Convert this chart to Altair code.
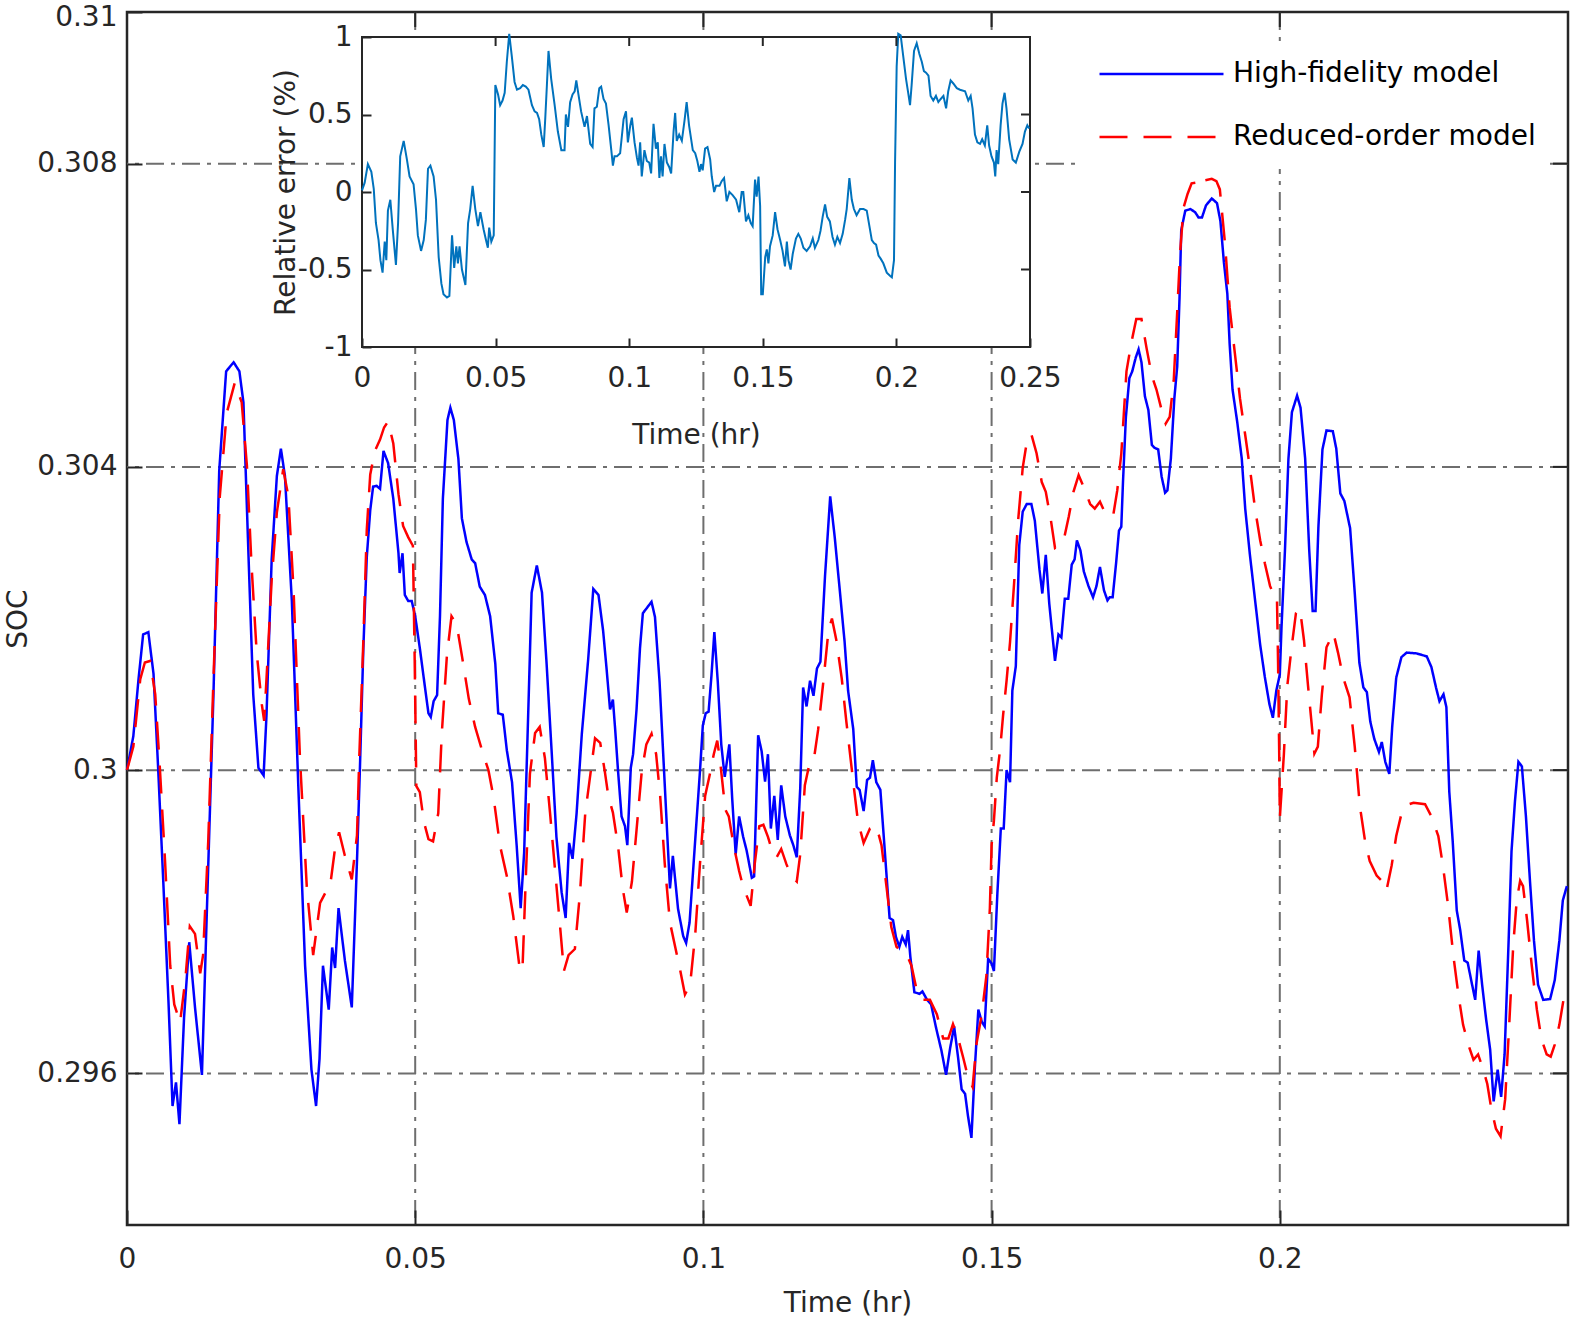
import altair as alt
import pandas as pd

# ---------------------------------------------------------------- data
hf_time = [
    0.0000, 0.0011, 0.0020, 0.0028, 0.0037, 0.0046, 0.0054, 0.0063, 0.0072, 0.0079,
    0.0085, 0.0091, 0.0099, 0.0108, 0.0118, 0.0130, 0.0139, 0.0150, 0.0160, 0.0172,
    0.0185, 0.0195, 0.0202, 0.0211, 0.0219, 0.0228, 0.0237, 0.0242, 0.0251, 0.0260,
    0.0267, 0.0274, 0.0286, 0.0297, 0.0309, 0.0320, 0.0328, 0.0334, 0.0340, 0.0350,
    0.0356, 0.0361, 0.0367, 0.0378, 0.0390, 0.0399, 0.0404, 0.0410, 0.0416, 0.0422,
    0.0427, 0.0433, 0.0439, 0.0445, 0.0453, 0.0462, 0.0471, 0.0473, 0.0478, 0.0482,
    0.0488, 0.0494, 0.0500, 0.0508, 0.0517, 0.0523, 0.0527, 0.0532, 0.0538, 0.0543,
    0.0548, 0.0556, 0.0561, 0.0567, 0.0575, 0.0581, 0.0589, 0.0598, 0.0604, 0.0612,
    0.0621, 0.0630, 0.0639, 0.0644, 0.0652, 0.0659, 0.0668, 0.0676, 0.0683, 0.0689,
    0.0697, 0.0702, 0.0711, 0.0720, 0.0728, 0.0737, 0.0745, 0.0754, 0.0761, 0.0767,
    0.0773, 0.0780, 0.0789, 0.0800, 0.0809, 0.0818, 0.0826, 0.0832, 0.0838, 0.0843,
    0.0847, 0.0852, 0.0858, 0.0864, 0.0868, 0.0874, 0.0878, 0.0884, 0.0890, 0.0895,
    0.0904, 0.0910, 0.0916, 0.0924, 0.0933, 0.0942, 0.0947, 0.0956, 0.0965, 0.0970,
    0.0976, 0.0985, 0.0994, 0.0999, 0.1004, 0.1009, 0.1014, 0.1019, 0.1025, 0.1031,
    0.1037, 0.1045, 0.1050, 0.1056, 0.1062, 0.1069, 0.1075, 0.1084, 0.1088, 0.1095,
    0.1101, 0.1107, 0.1112, 0.1117, 0.1123, 0.1129, 0.1135, 0.1142, 0.1150, 0.1156,
    0.1162, 0.1168, 0.1173, 0.1179, 0.1185, 0.1191, 0.1197, 0.1203, 0.1211, 0.1220,
    0.1228, 0.1237, 0.1245, 0.1251, 0.1260, 0.1266, 0.1271, 0.1278, 0.1284, 0.1289,
    0.1294, 0.1300, 0.1307, 0.1314, 0.1323, 0.1329, 0.1334, 0.1340, 0.1345, 0.1351,
    0.1355, 0.1359, 0.1366, 0.1375, 0.1380, 0.1388, 0.1395, 0.1404, 0.1413, 0.1421,
    0.1428, 0.1435, 0.1442, 0.1448, 0.1454, 0.1459, 0.1465, 0.1471, 0.1477, 0.1483,
    0.1488, 0.1494, 0.1500, 0.1504, 0.1510, 0.1516, 0.1521, 0.1526, 0.1532, 0.1536,
    0.1542, 0.1548, 0.1554, 0.1561, 0.1569, 0.1575, 0.1583, 0.1588, 0.1594, 0.1600,
    0.1610, 0.1616, 0.1621, 0.1627, 0.1633, 0.1639, 0.1644, 0.1648, 0.1654, 0.1660,
    0.1668, 0.1676, 0.1682, 0.1688, 0.1695, 0.1701, 0.1705, 0.1710, 0.1716, 0.1721,
    0.1725, 0.1728, 0.1733, 0.1739, 0.1744, 0.1750, 0.1755, 0.1760, 0.1766, 0.1772,
    0.1778, 0.1783, 0.1789, 0.1795, 0.1801, 0.1805, 0.1811, 0.1817, 0.1822, 0.1826,
    0.1829, 0.1836, 0.1845, 0.1853, 0.1859, 0.1865, 0.1872, 0.1882, 0.1891, 0.1897,
    0.1903, 0.1909, 0.1913, 0.1918, 0.1926, 0.1934, 0.1940, 0.1948, 0.1957, 0.1966,
    0.1974, 0.1982, 0.1988, 0.1994, 0.2000, 0.2003, 0.2009, 0.2015, 0.2021, 0.2030,
    0.2036, 0.2044, 0.2051, 0.2057, 0.2062, 0.2067, 0.2074, 0.2081, 0.2092, 0.2098,
    0.2105, 0.2112, 0.2122, 0.2130, 0.2138, 0.2145, 0.2151, 0.2157, 0.2164, 0.2172,
    0.2177, 0.2183, 0.2190, 0.2195, 0.2202, 0.2211, 0.2220, 0.2237, 0.2255, 0.2263,
    0.2271, 0.2277, 0.2284, 0.2289, 0.2294, 0.2300, 0.2307, 0.2313, 0.2320, 0.2326,
    0.2332, 0.2339, 0.2345, 0.2351, 0.2358, 0.2365, 0.2371, 0.2378, 0.2384, 0.2390,
    0.2397, 0.2402, 0.2408, 0.2414, 0.2420, 0.2427, 0.2434, 0.2441, 0.2448, 0.2457,
    0.2469, 0.2477, 0.2485, 0.2491, 0.2498,
]
hf_soc = [
    0.30000, 0.30045, 0.30120, 0.30179, 0.30182, 0.30127, 0.30003, 0.29852, 0.29694, 0.29557,
    0.29588, 0.29533, 0.29674, 0.29773, 0.29687, 0.29598, 0.29825, 0.30100, 0.30395, 0.30526,
    0.30538, 0.30526, 0.30485, 0.30278, 0.30100, 0.30003, 0.29993, 0.30072, 0.30278, 0.30388,
    0.30424, 0.30388, 0.30223, 0.29983, 0.29742, 0.29605, 0.29557, 0.29619, 0.29742, 0.29684,
    0.29766, 0.29739, 0.29818, 0.29749, 0.29687, 0.29880, 0.30000, 0.30160, 0.30281, 0.30343,
    0.30374, 0.30375, 0.30371, 0.30421, 0.30405, 0.30358, 0.30286, 0.30260, 0.30286, 0.30231,
    0.30223, 0.30223, 0.30203, 0.30161, 0.30109, 0.30075, 0.30070, 0.30091, 0.30099, 0.30203,
    0.30358, 0.30462, 0.30478, 0.30462, 0.30410, 0.30332, 0.30301, 0.30278, 0.30273, 0.30242,
    0.30231, 0.30203, 0.30140, 0.30075, 0.30073, 0.30026, 0.29984, 0.29901, 0.29818, 0.29891,
    0.30099, 0.30234, 0.30270, 0.30234, 0.30140, 0.30021, 0.29912, 0.29839, 0.29805, 0.29904,
    0.29883, 0.29943, 0.30047, 0.30145, 0.30239, 0.30231, 0.30184, 0.30134, 0.30080, 0.30093,
    0.30053, 0.29998, 0.29939, 0.29926, 0.29901, 0.30003, 0.30021, 0.30080, 0.30161, 0.30207,
    0.30216, 0.30222, 0.30202, 0.30116, 0.29980, 0.29844, 0.29887, 0.29817, 0.29781, 0.29772,
    0.29799, 0.29899, 0.29998, 0.30059, 0.30075, 0.30077, 0.30125, 0.30182, 0.30116, 0.30034,
    0.29991, 0.30034, 0.29962, 0.29889, 0.29939, 0.29912, 0.29894, 0.29858, 0.29860, 0.30046,
    0.30025, 0.29985, 0.30021, 0.29923, 0.29966, 0.29908, 0.29980, 0.29939, 0.29914, 0.29901,
    0.29885, 0.29976, 0.30109, 0.30084, 0.30118, 0.30098, 0.30134, 0.30143, 0.30256, 0.30361,
    0.30306, 0.30234, 0.30169, 0.30105, 0.30054, 0.29978, 0.29974, 0.29946, 0.29987, 0.29990,
    0.30013, 0.29984, 0.29974, 0.29901, 0.29805, 0.29802, 0.29780, 0.29767, 0.29780, 0.29770,
    0.29789, 0.29754, 0.29707, 0.29705, 0.29708, 0.29697, 0.29691, 0.29659, 0.29630, 0.29598,
    0.29633, 0.29662, 0.29620, 0.29579, 0.29573, 0.29544, 0.29515, 0.29608, 0.29684, 0.29668,
    0.29662, 0.29751, 0.29745, 0.29735, 0.29837, 0.29923, 0.29923, 0.30000, 0.29984, 0.30105,
    0.30137, 0.30297, 0.30341, 0.30351, 0.30351, 0.30329, 0.30265, 0.30233, 0.30284, 0.30220,
    0.30144, 0.30179, 0.30175, 0.30226, 0.30226, 0.30271, 0.30278, 0.30303, 0.30290, 0.30262,
    0.30243, 0.30228, 0.30243, 0.30268, 0.30237, 0.30224, 0.30228, 0.30228, 0.30273, 0.30316,
    0.30321, 0.30381, 0.30466, 0.30517, 0.30526, 0.30544, 0.30555, 0.30538, 0.30493, 0.30475,
    0.30429, 0.30425, 0.30423, 0.30387, 0.30366, 0.30369, 0.30411, 0.30490, 0.30532, 0.30622,
    0.30712, 0.30738, 0.30740, 0.30736, 0.30729, 0.30729, 0.30745, 0.30754, 0.30748, 0.30724,
    0.30670, 0.30628, 0.30562, 0.30502, 0.30460, 0.30411, 0.30345, 0.30285, 0.30225, 0.30165,
    0.30123, 0.30087, 0.30069, 0.30105, 0.30126, 0.30189, 0.30291, 0.30411, 0.30472, 0.30494,
    0.30478, 0.30411, 0.30291, 0.30210, 0.30210, 0.30321, 0.30423, 0.30448, 0.30447, 0.30424,
    0.30365, 0.30355, 0.30319, 0.30234, 0.30142, 0.30109, 0.30103, 0.30064, 0.30041, 0.30024,
    0.30037, 0.30011, 0.29995, 0.30057, 0.30122, 0.30149, 0.30155, 0.30154, 0.30150, 0.30136,
    0.30109, 0.30091, 0.30100, 0.30083, 0.29972, 0.29906, 0.29815, 0.29789, 0.29749, 0.29746,
    0.29723, 0.29697, 0.29762, 0.29717, 0.29671, 0.29631, 0.29563, 0.29605, 0.29569, 0.29625,
    0.29775, 0.29893, 0.29959, 0.30011, 0.30005, 0.29939, 0.29854, 0.29775, 0.29717, 0.29697,
    0.29698, 0.29723, 0.29775, 0.29828, 0.29847,
]

rom_time = [
    0.0000, 0.0011, 0.0023, 0.0031, 0.0040, 0.0049, 0.0057, 0.0066, 0.0075, 0.0082,
    0.0092, 0.0101, 0.0109, 0.0118, 0.0127, 0.0132, 0.0141, 0.0150, 0.0161, 0.0173,
    0.0187, 0.0199, 0.0208, 0.0216, 0.0225, 0.0234, 0.0238, 0.0242, 0.0251, 0.0260,
    0.0271, 0.0280, 0.0289, 0.0300, 0.0312, 0.0323, 0.0335, 0.0344, 0.0352, 0.0361,
    0.0368, 0.0378, 0.0390, 0.0399, 0.0403, 0.0410, 0.0416, 0.0422, 0.0430, 0.0439,
    0.0446, 0.0453, 0.0462, 0.0471, 0.0479, 0.0488, 0.0496, 0.0499, 0.0502, 0.0508,
    0.0515, 0.0523, 0.0531, 0.0540, 0.0546, 0.0555, 0.0563, 0.0572, 0.0581, 0.0593,
    0.0604, 0.0616, 0.0627, 0.0636, 0.0647, 0.0659, 0.0670, 0.0681, 0.0686, 0.0692,
    0.0699, 0.0708, 0.0716, 0.0725, 0.0734, 0.0743, 0.0751, 0.0758, 0.0766, 0.0777,
    0.0786, 0.0795, 0.0804, 0.0812, 0.0821, 0.0829, 0.0835, 0.0843, 0.0852, 0.0860,
    0.0867, 0.0876, 0.0884, 0.0893, 0.0901, 0.0910, 0.0918, 0.0925, 0.0933, 0.0942,
    0.0951, 0.0960, 0.0968, 0.0977, 0.0986, 0.0994, 0.1003, 0.1011, 0.1018, 0.1024,
    0.1029, 0.1038, 0.1044, 0.1053, 0.1062, 0.1069, 0.1082, 0.1089, 0.1097, 0.1104,
    0.1112, 0.1121, 0.1127, 0.1135, 0.1144, 0.1153, 0.1162, 0.1168, 0.1176, 0.1185,
    0.1192, 0.1199, 0.1208, 0.1217, 0.1223, 0.1231, 0.1240, 0.1248, 0.1260, 0.1268,
    0.1278, 0.1289, 0.1300, 0.1309, 0.1318, 0.1326, 0.1335, 0.1344, 0.1352, 0.1361,
    0.1370, 0.1381, 0.1393, 0.1405, 0.1416, 0.1425, 0.1433, 0.1442, 0.1451, 0.1459,
    0.1467, 0.1474, 0.1483, 0.1491, 0.1497, 0.1500, 0.1504, 0.1509, 0.1515, 0.1520,
    0.1526, 0.1532, 0.1539, 0.1546, 0.1554, 0.1562, 0.1569, 0.1578, 0.1587, 0.1594,
    0.1603, 0.1610, 0.1618, 0.1625, 0.1634, 0.1642, 0.1651, 0.1660, 0.1671, 0.1679,
    0.1688, 0.1697, 0.1705, 0.1711, 0.1718, 0.1725, 0.1734, 0.1742, 0.1751, 0.1760,
    0.1769, 0.1778, 0.1786, 0.1795, 0.1802, 0.1809, 0.1816, 0.1822, 0.1827, 0.1833,
    0.1840, 0.1847, 0.1856, 0.1863, 0.1870, 0.1882, 0.1890, 0.1896, 0.1905, 0.1913,
    0.1922, 0.1931, 0.1940, 0.1948, 0.1957, 0.1966, 0.1974, 0.1983, 0.1990, 0.1995,
    0.1997, 0.1999, 0.2000, 0.2003, 0.2007, 0.2013, 0.2020, 0.2028, 0.2035, 0.2042,
    0.2049, 0.2055, 0.2060, 0.2066, 0.2073, 0.2081, 0.2093, 0.2101, 0.2110, 0.2121,
    0.2130, 0.2139, 0.2148, 0.2156, 0.2168, 0.2177, 0.2185, 0.2194, 0.2202, 0.2210,
    0.2220, 0.2232, 0.2252, 0.2263, 0.2275, 0.2283, 0.2292, 0.2301, 0.2310, 0.2318,
    0.2327, 0.2336, 0.2344, 0.2353, 0.2360, 0.2367, 0.2375, 0.2383, 0.2391, 0.2398,
    0.2405, 0.2411, 0.2417, 0.2422, 0.2429, 0.2437, 0.2446, 0.2454, 0.2463, 0.2470,
    0.2477, 0.2485, 0.2495,
]
rom_soc = [
    0.30000, 0.30031, 0.30120, 0.30142, 0.30144, 0.30100, 0.30003, 0.29880, 0.29742, 0.29691,
    0.29667, 0.29722, 0.29794, 0.29784, 0.29732, 0.29756, 0.29907, 0.30120, 0.30361, 0.30471,
    0.30511, 0.30485, 0.30402, 0.30271, 0.30155, 0.30086, 0.30065, 0.30120, 0.30251, 0.30340,
    0.30397, 0.30361, 0.30237, 0.30017, 0.29845, 0.29756, 0.29825, 0.29838, 0.29845, 0.29897,
    0.29918, 0.29887, 0.29856, 0.29914, 0.30017, 0.30170, 0.30317, 0.30390, 0.30421, 0.30436,
    0.30452, 0.30460, 0.30431, 0.30364, 0.30322, 0.30307, 0.30296, 0.30151, 0.29979, 0.29971,
    0.29932, 0.29909, 0.29906, 0.29943, 0.30047, 0.30151, 0.30203, 0.30192, 0.30151, 0.30094,
    0.30057, 0.30026, 0.30000, 0.29964, 0.29901, 0.29860, 0.29808, 0.29740, 0.29735, 0.29860,
    0.29995, 0.30049, 0.30057, 0.30016, 0.29943, 0.29865, 0.29797, 0.29735, 0.29756, 0.29764,
    0.29839, 0.29943, 0.29995, 0.30042, 0.30036, 0.29998, 0.29966, 0.29944, 0.29899, 0.29844,
    0.29812, 0.29853, 0.29921, 0.29998, 0.30034, 0.30048, 0.30021, 0.29966, 0.29876, 0.29799,
    0.29767, 0.29735, 0.29704, 0.29717, 0.29785, 0.29876, 0.29966, 0.29994, 0.30021, 0.30039,
    0.30012, 0.29948, 0.29939, 0.29899, 0.29867, 0.29846, 0.29821, 0.29876, 0.29926, 0.29928,
    0.29912, 0.29889, 0.29885, 0.29896, 0.29876, 0.29860, 0.29853, 0.29889, 0.29980, 0.30012,
    0.30016, 0.30053, 0.30116, 0.30184, 0.30200, 0.30170, 0.30121, 0.30064, 0.29984, 0.29933,
    0.29904, 0.29923, 0.29927, 0.29901, 0.29844, 0.29793, 0.29767, 0.29761, 0.29758, 0.29742,
    0.29710, 0.29697, 0.29697, 0.29678, 0.29646, 0.29646, 0.29665, 0.29646, 0.29620, 0.29595,
    0.29582, 0.29640, 0.29678, 0.29729, 0.29818, 0.29901, 0.29933, 0.29990, 0.30029, 0.30073,
    0.30118, 0.30169, 0.30246, 0.30329, 0.30399, 0.30437, 0.30443, 0.30418, 0.30380, 0.30367,
    0.30329, 0.30293, 0.30297, 0.30303, 0.30335, 0.30367, 0.30389, 0.30373, 0.30351, 0.30345,
    0.30354, 0.30339, 0.30334, 0.30336, 0.30369, 0.30417, 0.30526, 0.30562, 0.30595, 0.30595,
    0.30556, 0.30520, 0.30502, 0.30475, 0.30457, 0.30466, 0.30514, 0.30604, 0.30682, 0.30742,
    0.30760, 0.30774, 0.30775, 0.30769, 0.30778, 0.30780, 0.30777, 0.30766, 0.30694, 0.30610,
    0.30550, 0.30490, 0.30442, 0.30399, 0.30345, 0.30303, 0.30273, 0.30243, 0.30231, 0.30231,
    0.30141, 0.30020, 0.29936, 0.29972, 0.30020, 0.30111, 0.30159, 0.30207, 0.30213, 0.30171,
    0.30111, 0.30063, 0.30022, 0.30031, 0.30100, 0.30162, 0.30181, 0.30155, 0.30122, 0.30096,
    0.30031, 0.29952, 0.29906, 0.29880, 0.29861, 0.29854, 0.29841, 0.29874, 0.29913, 0.29939,
    0.29954, 0.29957, 0.29955, 0.29939, 0.29913, 0.29874, 0.29821, 0.29756, 0.29703, 0.29664,
    0.29638, 0.29618, 0.29625, 0.29605, 0.29586, 0.29553, 0.29527, 0.29517, 0.29566, 0.29664,
    0.29769, 0.29828, 0.29854, 0.29847, 0.29802, 0.29743, 0.29684, 0.29645, 0.29625, 0.29622,
    0.29638, 0.29664, 0.29710,
]

err_time = [
    0.0000, 0.0010, 0.0022, 0.0035, 0.0044, 0.0052, 0.0062, 0.0069, 0.0077, 0.0085,
    0.0091, 0.0097, 0.0106, 0.0115, 0.0127, 0.0135, 0.0143, 0.0156, 0.0168, 0.0178,
    0.0193, 0.0202, 0.0209, 0.0221, 0.0231, 0.0239, 0.0247, 0.0256, 0.0268, 0.0277,
    0.0287, 0.0297, 0.0305, 0.0318, 0.0327, 0.0337, 0.0345, 0.0353, 0.0359, 0.0365,
    0.0374, 0.0387, 0.0397, 0.0405, 0.0414, 0.0424, 0.0434, 0.0443, 0.0455, 0.0464,
    0.0471, 0.0476, 0.0484, 0.0493, 0.0499, 0.0509, 0.0517, 0.0526, 0.0534, 0.0542,
    0.0551, 0.0561, 0.0571, 0.0580, 0.0592, 0.0602, 0.0613, 0.0623, 0.0636, 0.0646,
    0.0655, 0.0663, 0.0671, 0.0680, 0.0686, 0.0692, 0.0698, 0.0708, 0.0721, 0.0733,
    0.0746, 0.0758, 0.0763, 0.0771, 0.0779, 0.0788, 0.0796, 0.0802, 0.0810, 0.0820,
    0.0833, 0.0842, 0.0854, 0.0863, 0.0870, 0.0879, 0.0888, 0.0895, 0.0904, 0.0913,
    0.0923, 0.0933, 0.0939, 0.0945, 0.0954, 0.0966, 0.0979, 0.0988, 0.0995, 0.1004,
    0.1010, 0.1020, 0.1029, 0.1035, 0.1041, 0.1047, 0.1057, 0.1066, 0.1075, 0.1082,
    0.1091, 0.1100, 0.1107, 0.1113, 0.1119, 0.1125, 0.1132, 0.1141, 0.1150, 0.1157,
    0.1166, 0.1172, 0.1178, 0.1187, 0.1197, 0.1207, 0.1215, 0.1224, 0.1238, 0.1247,
    0.1255, 0.1263, 0.1269, 0.1275, 0.1284, 0.1293, 0.1303, 0.1309, 0.1318, 0.1325,
    0.1338, 0.1346, 0.1355, 0.1365, 0.1375, 0.1387, 0.1400, 0.1412, 0.1421, 0.1427,
    0.1437, 0.1446, 0.1455, 0.1462, 0.1471, 0.1477, 0.1484, 0.1490, 0.1494, 0.1500,
    0.1509, 0.1515, 0.1521, 0.1527, 0.1537, 0.1546, 0.1555, 0.1565, 0.1574, 0.1583,
    0.1590, 0.1596, 0.1604, 0.1612, 0.1624, 0.1633, 0.1642, 0.1652, 0.1664, 0.1677,
    0.1687, 0.1695, 0.1708, 0.1716, 0.1724, 0.1733, 0.1741, 0.1751, 0.1761, 0.1770,
    0.1779, 0.1789, 0.1799, 0.1808, 0.1814, 0.1824, 0.1833, 0.1841, 0.1851, 0.1864,
    0.1877, 0.1889, 0.1899, 0.1908, 0.1916, 0.1924, 0.1933, 0.1941, 0.1951, 0.1964,
    0.1976, 0.1983, 0.1991, 0.1995, 0.2001, 0.2007, 0.2016, 0.2026, 0.2036, 0.2045,
    0.2051, 0.2057, 0.2066, 0.2076, 0.2086, 0.2095, 0.2103, 0.2111, 0.2120, 0.2128,
    0.2138, 0.2148, 0.2157, 0.2166, 0.2176, 0.2186, 0.2194, 0.2203, 0.2213, 0.2226,
    0.2238, 0.2257, 0.2269, 0.2278, 0.2285, 0.2294, 0.2303, 0.2313, 0.2321, 0.2331,
    0.2340, 0.2347, 0.2356, 0.2365, 0.2370, 0.2375, 0.2381, 0.2390, 0.2397, 0.2405,
    0.2412, 0.2422, 0.2435, 0.2447, 0.2460, 0.2472, 0.2481, 0.2490, 0.2497,
]
err_pct = [
    0.01, 0.06, 0.18, 0.13, 0.02, -0.20, -0.31, -0.44, -0.52, -0.32,
    -0.44, -0.12, -0.05, -0.24, -0.47, -0.20, 0.23, 0.33, 0.21, 0.10,
    0.05, -0.11, -0.28, -0.38, -0.31, -0.18, 0.15, 0.17, 0.10, -0.05,
    -0.42, -0.59, -0.66, -0.68, -0.67, -0.28, -0.49, -0.35, -0.46, -0.35,
    -0.50, -0.60, -0.20, -0.11, 0.04, -0.11, -0.22, -0.13, -0.24, -0.31,
    -0.36, -0.23, -0.32, -0.28, 0.69, 0.63, 0.56, 0.59, 0.64, 0.84,
    1.02, 0.87, 0.71, 0.66, 0.67, 0.69, 0.68, 0.66, 0.56, 0.52,
    0.51, 0.47, 0.37, 0.29, 0.48, 0.69, 0.91, 0.73, 0.56, 0.39,
    0.27, 0.27, 0.50, 0.42, 0.58, 0.63, 0.65, 0.72, 0.63, 0.52,
    0.42, 0.49, 0.31, 0.29, 0.54, 0.55, 0.67, 0.68, 0.60, 0.57,
    0.43, 0.27, 0.17, 0.23, 0.23, 0.25, 0.47, 0.52, 0.32, 0.43,
    0.48, 0.32, 0.22, 0.17, 0.32, 0.10, 0.27, 0.20, 0.19, 0.12,
    0.44, 0.28, 0.32, 0.09, 0.23, 0.10, 0.31, 0.19, 0.16, 0.12,
    0.39, 0.51, 0.33, 0.37, 0.33, 0.46, 0.58, 0.43, 0.27, 0.25,
    0.20, 0.13, 0.18, 0.14, 0.28, 0.29, 0.21, 0.10, 0.00, 0.04,
    0.04, 0.07, 0.09, -0.06, 0.00, -0.02, -0.05, -0.13, 0.00, 0.00,
    -0.19, -0.15, -0.20, -0.22, 0.08, -0.03, 0.10, -0.09, -0.66, -0.66,
    -0.42, -0.37, -0.46, -0.35, -0.28, -0.13, -0.24, -0.31, -0.38, -0.48,
    -0.32, -0.44, -0.50, -0.40, -0.30, -0.27, -0.30, -0.36, -0.38, -0.35,
    -0.30, -0.36, -0.31, -0.25, -0.16, -0.08, -0.16, -0.19, -0.29, -0.34,
    -0.29, -0.33, -0.27, -0.18, -0.11, 0.09, -0.05, -0.11, -0.15, -0.11,
    -0.11, -0.12, -0.22, -0.31, -0.33, -0.34, -0.41, -0.43, -0.46, -0.52,
    -0.54, -0.55, -0.44, 0.19, 0.81, 1.02, 1.01, 0.87, 0.73, 0.63,
    0.56, 0.69, 0.91, 0.96, 0.89, 0.84, 0.78, 0.77, 0.75, 0.62,
    0.59, 0.62, 0.58, 0.60, 0.62, 0.54, 0.65, 0.72, 0.70, 0.67,
    0.66, 0.65, 0.59, 0.62, 0.54, 0.37, 0.32, 0.31, 0.34, 0.30,
    0.43, 0.30, 0.23, 0.19, 0.10, 0.27, 0.18, 0.43, 0.57, 0.64,
    0.54, 0.34, 0.21, 0.19, 0.26, 0.31, 0.39, 0.43, 0.41,
]

series_names = ["High-fidelity model", "Reduced-order model"]
series_colors = ["#0000FF", "#FF0000"]
series_dashes = [[1, 0], [28, 16]]

x_ticks = [0, 0.05, 0.1, 0.15, 0.2]
y_ticks = [0.296, 0.3, 0.304, 0.308, 0.31]
grid_x = [0.05, 0.1, 0.15, 0.2]
grid_y = [0.296, 0.3, 0.304, 0.308]
inset_x_ticks = [0, 0.05, 0.1, 0.15, 0.2, 0.25]
inset_y_ticks = [-1, -0.5, 0, 0.5, 1]

# ---------------------------------------------------------------- style
W, H = 1441, 1213
FONT = "DejaVu Sans"
INK = "#262626"
GRID = "#6e6e6e"
FS = 28
TICK = 15          # inward tick length of the main axes
ITICK = 9          # inward tick length of the inset axes
INSET_X = [235, 903]
INSET_Y = [335, 25]


def axis(values, title, tick, offset, pad, tpad, orient=None, **extra):
    kw = dict(values=values, labelExpr="datum.value + ''", title=title, grid=False,
              domain=False, tickSize=tick, offset=offset, tickColor=INK, tickWidth=2,
              labelFlush=False, labelPadding=pad, labelFont=FONT, labelFontSize=FS,
              labelColor=INK, titleFont=FONT, titleFontSize=FS,
              titleFontWeight="normal", titleColor=INK, titlePadding=tpad,
              zindex=1, labelOverlap=False)
    if orient:
        kw["orient"] = orient
    kw.update(extra)
    return alt.Axis(**kw)


xs = alt.Scale(domain=[0, 0.25], nice=False, zero=False)
ys = alt.Scale(domain=[0.294, 0.31], nice=False, zero=False)
x_axis = axis(x_ticks, "Time (hr)", TICK, -TICK, 20, 16)
# the topmost label sits a little below the box corner so it stays on the canvas
y_axis = axis(y_ticks, "SOC", TICK, -TICK, 10, 4,
              labelOffset={"condition": {"test": "datum.value >= 0.31", "value": 5}, "value": 0})

X = lambda f: alt.X(f, scale=xs, axis=x_axis)
Y = lambda f: alt.Y(f, scale=ys, axis=y_axis)

legend = alt.Legend(title=None, orient="none", legendX=948, legendY=30,
                    fillColor="white", padding=12, symbolType="stroke",
                    symbolSize=124 * 124, symbolStrokeWidth=2.5, symbolOffset=11,
                    labelOffset=8, labelFont=FONT, labelFontSize=FS,
                    labelColor="black", clipHeight=40, rowPadding=23,
                    labelLimit=500)
color = alt.Color("series:N", scale=alt.Scale(domain=series_names, range=series_colors),
                  legend=legend)
dash = alt.StrokeDash("series:N",
                      scale=alt.Scale(domain=series_names, range=series_dashes),
                      legend=legend)

# dash-dot grid
grid_style = dict(color=GRID, strokeWidth=2, strokeDash=[18, 7, 4, 7])
vgrid = alt.Chart(pd.DataFrame({"t": grid_x})).mark_rule(**grid_style).encode(x=X("t:Q"))
hgrid = alt.Chart(pd.DataFrame({"soc": grid_y})).mark_rule(**grid_style).encode(y=Y("soc:Q"))

# inward ticks on the top and right edges of the main box
top_ticks = alt.Chart(pd.DataFrame({"t": x_ticks[1:]})).mark_rule(color=INK, strokeWidth=2).encode(
    x=X("t:Q"), y=alt.value(0), y2=alt.value(TICK))
right_ticks = alt.Chart(pd.DataFrame({"soc": y_ticks[:-1]})).mark_rule(color=INK, strokeWidth=2).encode(
    y=Y("soc:Q"), x=alt.value(W - TICK), x2=alt.value(W))

hf = pd.DataFrame({"t": hf_time, "soc": hf_soc, "series": series_names[0]})
rom = pd.DataFrame({"t": rom_time, "soc": rom_soc, "series": series_names[1]})
hf_line = alt.Chart(hf).mark_line(strokeWidth=2.5).encode(
    x=X("t:Q"), y=Y("soc:Q"), color=color, strokeDash=dash)
rom_line = alt.Chart(rom).mark_line(strokeWidth=2.5, strokeCap="butt").encode(
    x=X("t:Q"), y=Y("soc:Q"), color=color, strokeDash=dash)

main = alt.layer(vgrid, hgrid, top_ticks, right_ticks, hf_line, rom_line)

# ---------------------------------------------------------------- inset
ixs = alt.Scale(domain=[0, 0.25], range=INSET_X, nice=False, zero=False)
iys = alt.Scale(domain=[-1, 1], range=INSET_Y, nice=False, zero=False)
ix_axis = axis(inset_x_ticks, "Time (hr)", ITICK, -(H - INSET_Y[0]) - ITICK, 17, 29, "bottom")
iy_axis = axis(inset_y_ticks, "Relative error (%)", ITICK, -(INSET_X[0] + ITICK), 10, -3, "left")
IX = lambda f: alt.X(f, scale=ixs, axis=ix_axis)
IY = lambda f: alt.Y(f, scale=iys, axis=iy_axis)

box = pd.DataFrame({"x0": [0], "x1": [0.25], "y0": [-1], "y1": [1]})
inset_box = alt.Chart(box).mark_rect(fill="white", stroke=INK, strokeWidth=2).encode(
    x=IX("x0:Q"), x2="x1:Q", y=IY("y0:Q"), y2="y1:Q")
err = pd.DataFrame({"t": err_time, "err": err_pct})
inset_line = alt.Chart(err).mark_line(color="#0072BD", strokeWidth=2).encode(
    x=IX("t:Q"), y=IY("err:Q"))
inset_top = alt.Chart(pd.DataFrame({"t": inset_x_ticks[1:-1]})).mark_rule(color=INK, strokeWidth=2).encode(
    x=IX("t:Q"), y=alt.value(INSET_Y[1]), y2=alt.value(INSET_Y[1] + ITICK))
inset_right = alt.Chart(pd.DataFrame({"e": inset_y_ticks[1:-1]})).mark_rule(color=INK, strokeWidth=2).encode(
    y=IY("e:Q"), x=alt.value(INSET_X[1] - ITICK), x2=alt.value(INSET_X[1]))

inset = alt.layer(inset_box, inset_line, inset_top, inset_right)

chart = alt.layer(main, inset).resolve_scale(x="independent", y="independent").properties(
    width=W, height=H,
    padding={"left": 127, "top": 12, "right": 3, "bottom": 94},
    autosize=alt.AutoSizeParams(type="none"),
    background="white",
).configure_view(stroke=INK, strokeWidth=2.5)

chart.save("out.html", embed_options={"renderer": "svg", "actions": False})
